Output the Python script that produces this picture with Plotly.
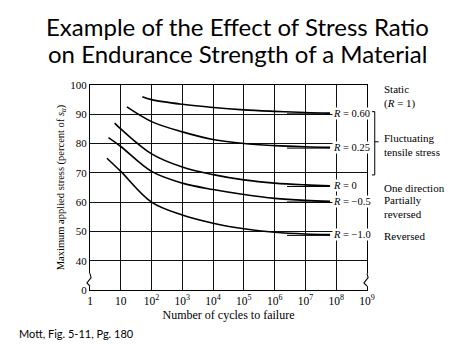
import plotly.graph_objects as go

# ---- data ----
cycles_log = {
    "R = 0.60": [1.7, 2, 3, 4, 5, 6, 7, 7.8],
    "R = 0.25": [1.2, 2, 3, 4, 5, 6, 7, 7.8],
    "R = 0": [0.8, 1, 2, 3, 4, 5, 6, 7, 7.8],
    "R = −0.5": [0.6, 1, 2, 3, 4, 5, 6, 7, 7.8],
    "R = −1.0": [0.55, 1, 2, 3, 4, 5, 6, 7, 7.8],
}
stress = {
    "R = 0.60": [96, 95, 93.4, 92.3, 91.5, 91.0, 90.6, 90.4],
    "R = 0.25": [92.5, 87.5, 84.0, 81.4, 80.0, 79.3, 78.9, 78.7],
    "R = 0": [87, 85, 76.5, 72, 69.4, 67.6, 66.5, 65.9, 65.6],
    "R = −0.5": [82, 79, 70.5, 66.5, 64.3, 62.6, 61.3, 60.6, 60.3],
    "R = −1.0": [75, 70.5, 60, 55.6, 52.8, 50.9, 49.7, 49.1, 48.9],
}
x_tick_vals = [1, 10, 1e2, 1e3, 1e4, 1e5, 1e6, 1e7, 1e8, 1e9]
x_tick_text = ["1", "10", "10<sup>2</sup>", "10<sup>3</sup>", "10<sup>4</sup>",
               "10<sup>5</sup>", "10<sup>6</sup>", "10<sup>7</sup>", "10<sup>8</sup>", "10<sup>9</sup>"]
y_tick_vals = [30, 40, 50, 60, 70, 80, 90, 100]
y_tick_text = ["0", "40", "50", "60", "70", "80", "90", "100"]

right_labels = [
    ("Static<br>(<i>R</i> = 1)", 96.0),
    ("Fluctuating<br>tensile stress", 79.6),
    ("One direction", 65.0),
    ("Partially<br>reversed", 58.2),
    ("Reversed", 48.3),
]
title_lines = ["Example of the Effect of Stress Ratio", "on Endurance Strength of a Material"]

SERIF = "Liberation Serif"

fig = go.Figure()
for name in cycles_log:
    xs = [10 ** v for v in cycles_log[name]]
    ys = stress[name]
    fig.add_trace(go.Scatter(x=xs, y=ys, mode="lines", line=dict(color="black", width=1.6, shape="spline"),
                             showlegend=False, hoverinfo="skip"))
    # endurance-limit horizontal strand near the end
    fig.add_trace(go.Scatter(x=[10 ** 6.4, 10 ** cycles_log[name][-1]], y=[ys[-1] - 0.25, ys[-1] - 0.25],
                             mode="lines", line=dict(color="black", width=1.0),
                             showlegend=False, hoverinfo="skip"))
    fig.add_annotation(x=7.86, y=ys[-1], xref="x", yref="y",
                       text=name.replace("R", "<i>R</i>", 1), showarrow=False,
                       font=dict(family=SERIF, size=10.5, color="black"),
                       bgcolor="white", borderpad=0, xanchor="left", yanchor="middle")

for txt, yv in right_labels:
    fig.add_annotation(x=1.054, y=yv, xref="paper", yref="y", text=txt, showarrow=False,
                       align="left", xanchor="left", yanchor="middle",
                       font=dict(family=SERIF, size=11, color="black"))

# bracket for fluctuating tensile stress
fig.add_shape(type="path", xref="paper", yref="y",
              path="M 1.018,90.9 L 1.028,90.9 L 1.028,69.3 L 1.018,69.3",
              line=dict(color="black", width=1))
fig.add_shape(type="line", xref="paper", yref="y", x0=1.028, x1=1.042, y0=80.6, y1=80.6,
              line=dict(color="black", width=1))

# axis break marks
for xp in (0.0, 1.0):
    fig.add_shape(type="line", xref="paper", yref="y", x0=xp, x1=xp, y0=31.3, y1=35.6,
                  line=dict(color="white", width=3))
    fig.add_shape(type="path", xref="paper", yref="y",
                  path=f"M {xp},31.3 L {xp - 0.011},32.4 L {xp + 0.004},34.2 L {xp},35.6",
                  line=dict(color="black", width=1.1))

fig.update_xaxes(type="log", range=[0, 9], tickvals=x_tick_vals, ticktext=x_tick_text,
                 showgrid=True, gridcolor="#111", gridwidth=1.1,
                 showline=True, linecolor="black", linewidth=1.3, mirror=True,
                 ticks="", tickfont=dict(family=SERIF, size=11.5, color="black"),
                 title=dict(text="Number of cycles to failure", font=dict(family=SERIF, size=12, color="black"),
                            standoff=4),
                 zeroline=False)
fig.update_yaxes(range=[30, 100], tickvals=y_tick_vals, ticktext=y_tick_text,
                 showgrid=True, gridcolor="#111", gridwidth=1.1,
                 showline=True, linecolor="black", linewidth=1.3, mirror=True,
                 ticks="", tickfont=dict(family=SERIF, size=11, color="black"),
                 title=dict(text="Maximum applied stress (percent of <i>s</i><sub><i>u</i></sub>)",
                            font=dict(family=SERIF, size=10.5, color="black"), standoff=3),
                 zeroline=False)

fig.update_layout(
    width=474, height=355,
    margin=dict(l=90, r=107, t=85, b=65),
    paper_bgcolor="white", plot_bgcolor="white",
)
for line_text, ypx in zip(title_lines, [27, 53]):
    fig.add_annotation(x=0.5, y=(290 - ypx) / 205, xref="paper", yref="paper", text=line_text,
                       showarrow=False, xanchor="center", yanchor="middle", xshift=(237 - (90 + 277 / 2)),
                       font=dict(family="Lato", size=24, color="black"))
fig.add_annotation(x=-0.263, y=-0.21, xref="paper", yref="paper", text="Mott, Fig. 5-11, Pg. 180",
                   showarrow=False, xanchor="left", yanchor="middle",
                   font=dict(family="Lato", size=11, color="black"))

fig.write_html("out.html", config={"displayModeBar": False},
               post_script="document.body.style.margin='0px';")
